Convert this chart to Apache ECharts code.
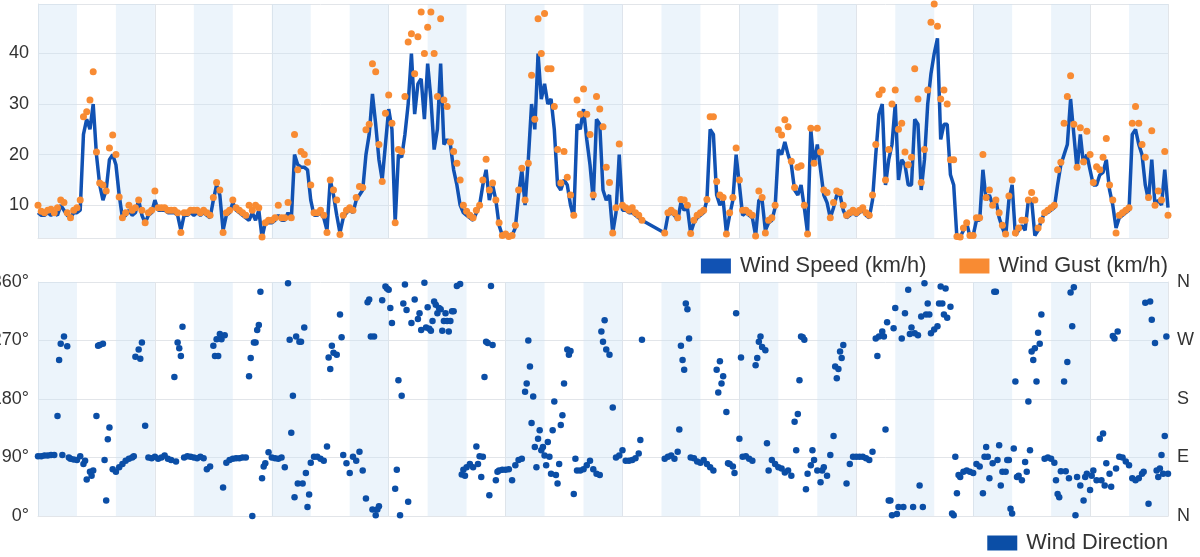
<!DOCTYPE html>
<html>
<head>
<meta charset="utf-8">
<title>Wind</title>
<script src="https://cdn.jsdelivr.net/npm/echarts@6.0.0/dist/echarts.min.js"></script>
<style>
  html, body { margin: 0; padding: 0; background: #fff; }
  #wind { width: 1200px; height: 557px; }
</style>
</head>
<body>
<div id="wind"></div>
<script>
// hourly readings, one row = 12 h (one shaded / unshaded band)
const speed = [
  8.5, 8, 8, 8.5, 8, 8.5, 8, 10, 9, 8, 7.5, 8.5,
  8.5, 9, 24, 27, 25, 30, 20, 14, 11, 13, 19, 20,
  18, 12, 7.5, 8, 9, 8, 8.5, 11, 8, 6.5, 8, 8.5,
  11, 9, 9, 9, 8.5, 8.5, 8.5, 8, 5, 8, 8, 8.5,
  8, 8.5, 8, 8.5, 8, 7.5, 11, 14, 12, 5, 8, 8.5,
  10.5, 9, 8.5, 8, 7.5, 7, 8.5, 7, 9, 3.6, 6.5, 6.5,
  6.5, 7, 8, 7, 7, 8.5, 7, 20, 18, 17.5, 17.5, 17,
  11, 8, 8, 8.5, 7.5, 5, 15, 12, 8, 4.5, 7.5, 8.5,
  9, 8.5, 11, 12, 13, 20, 24, 32, 26, 19, 15, 22,
  29, 25, 6.5, 20, 19.5, 24, 30, 40, 28, 34, 35, 27,
  38, 31, 21, 25, 38, 22, 23, 22, 17, 14, 10, 8.5,
  8, 7.5, 7, 8.5, 10, 14, 17, 11, 14, 11, 6, 4,
  4, 3.8, 4, 5.5, 12, 17, 10, 19, 30, 25, 40, 31,
  34, 30, 31, 25, 14, 13, 15, 14, 10, 7.5, 26, 25,
  29, 23, 18, 11, 27, 26, 13, 11, 12, 4.5, 8.5, 20,
  9, 9, 8.5, 8.5, 8, 7.5, 7, null, null, null, null, null,
  null, 4.5, 8, 8.5, 8, 7, 10.5, 9, 9.5, 4.5, 6.5, 7.5,
  8, 8.5, 11, 25, 24, 12, 10, 11, 4.5, 8, 11, 20,
  14, 8, 8.5, 8, 7.5, 4, 11, 11, 5, 6.5, 7, 9.5,
  21, 20, 22.5, 20, 18, 13, 12, 14, 9.5, 4.5, 25, 18,
  22, 17, 12, 10.5, 7.5, 9.5, 12, 12, 9, 7.5, 8, 8.5,
  8, 8.5, 9, 8, 7.5, 11, 20, 28, 30, 14, 19, 22,
  30, 15, 19, 18, 14, 14, 27, 26, 13, 19, 30, 36,
  40, 43, 23, 26, 26, 16, 14, 3.5, 3.7, 5, 6.5, 3.8,
  4, 7, 7, 17, 11, 12, 10, 11, 7.5, 5.5, 3.9, 11,
  14, 4, 5, 6, 5, 11, 11, 4, 5, 7, 8.5, 8.5,
  9, 9.5, 14, 18, 20, 22, 31, 24, 17, 24, 18, 20,
  17, 14, 14, 16, 16.5, 19, 13, 10, 5.5, 7.5, 8, 8.5,
  9, 24, 25, 22, 20, 14, 11, 19, 10, 11, 10, 17, 9.5
];

const gust = [
  10, 8.8, 8.5, 9, 9.2, 8.5, 9.5, 11, 10.5, 8.5, 7.5, 9,
  9.5, 11, 27.5, 28.5, 30.8, 36.4, 20.5, 14.4, 14, 12.8, 21.3, 23.9,
  20, 11.6, 7.5, 8.5, 10, 9, 9.5, 11, 9, 6.5, 8.5, 9,
  12.8, 9.5, 9.5, 9.5, 9, 9, 9, 8.5, 4.6, 8.5, 8.5, 9,
  9, 9, 8.5, 9, 8.5, 8, 11.5, 14.5, 13, 4.6, 8.5, 9,
  11, 9.5, 9, 8.5, 8, 10, 9, 10, 9.5, 3.7, 6.5, 7,
  7, 7.5, 10, 7.5, 7.5, 10.5, 7.5, 24, 17, 20.6, 20, 18.5,
  14, 8.5, 8.5, 9, 8, 4.6, 15, 13, 11, 4.2, 8, 9,
  9.5, 9, 11.5, 13.7, 13.5, 24.9, 26, 38, 36.4, 22, 14.7, 28.2,
  31.8, 26.2, 6.5, 21, 20.6, 31.5, 42.3, 43.9, 36, 43.3, 48.2, 40,
  45.2, 48.2, 40, 31.5, 46.9, 30.8, 29.5, 22.5, 20.6, 18.3, 15, 10,
  8.8, 8, 7.5, 9, 10, 15, 19.1, 13, 14.4, 11, 6.5, 4,
  4.3, 3.8, 4, 6, 13, 17.3, 11, 18.3, 35.7, 27, 46.9, 40,
  47.9, 37, 37, 29.5, 21, 14.4, 20.6, 15.5, 12, 8, 30.8, 28,
  33, 28, 24, 12, 31.5, 29, 25.5, 17.5, 14.5, 4.5, 9.5, 22.1,
  10, 9.5, 9, 9.5, 8.5, 8, 7, null, null, null, null, null,
  null, 4.5, 8.5, 9, 8.5, 7.5, 11.1, 11, 10, 4.4, 7, 8,
  8.5, 9, 11.1, 27.5, 27.5, 14.7, 12, 11.5, 4.3, 8.5, 11.5, 21.3,
  15, 9, 9, 8.5, 8, 3.9, 12.8, 11.5, 4.5, 7, 7.5, 10,
  24.9, 23.9, 26.9, 25.5, 18.7, 13.5, 17.5, 17.8, 10, 4.3, 25.2, 18.3,
  25.2, 20.5, 13, 12.5, 7.5, 10.5, 12.8, 12.5, 10, 8, 8.5, 9,
  8.5, 9, 9.5, 8.5, 8, 12, 22, 31.9, 32.8, 15, 21, 30,
  32.8, 25, 26.2, 20.5, 18, 19.5, 37, 31, 14.5, 21, 32.8, 46.2,
  49.8, 45.4, 31, 32.8, 30, 19, 19, 3.8, 3.7, 5.5, 6.5, 4,
  4, 7.5, 7.5, 20, 11.5, 13, 10, 11, 8.5, 6, 4.3, 11.8,
  15, 4.5, 5.5, 7, 7, 11, 12.5, 11, 5.5, 7, 8.5, 9,
  9.5, 10, 17, 18.5, 26.2, 31.5, 35.6, 26, 17.5, 25.3, 18.6, 24.6,
  20, 14.5, 17.6, 17, 19.5, 23.2, 14, 11, 4.5, 8, 8.5, 9,
  9.5, 26.2, 29.5, 26.2, 22, 19.5, 11.5, 24.7, 10, 12.8, 11, 20.6, 8
];

// wind direction in degrees, one reading per hour
const direction = [
  92, 92, 93, 93, 94, 94, 154, 265, 276, 261, 88, 87,
  86, 92, 80, 56, 68, 70, 154, 263, 265, 24, 136, 72,
  68, 75, 80, 85, 88, 90, 245, 256, 267, 139, 90, 89,
  91, 88, 90, 93, 88, 86, 214, 267, 246, 90, 92, 91,
  90, 89, 91, 89, 72, 76, 262, 272, 280, 44, 82, 86,
  88, 89, 89, 90, 90, 215, 0, 267, 294, 58, 81, 98,
  90, 89, 88, 90, 75, 358, 128, 29, 50, 268, 290, 14,
  82, 91, 91, 88, 85, 107, 226, 251, 248, 310, 94, 81,
  66, 91, 85, 99, 70, 27, 333, 10, 1, 15, 332, 353,
  348, 297, 42, 209, 185, 356, 22, 297, 333, 303, 286, 359,
  321, 285, 330, 312, 318, 300, 300, 300, 315, 354, 357, 71,
  75, 80, 75, 107, 92, 91, 268, 32, 263, 55, 70, 71,
  71, 72, 55, 78, 86, 88, 191, 270, 143, 106, 119, 101,
  93, 114, 65, 176, 50, 140, 204, 256, 254, 34, 70, 70,
  72, 78, 85, 72, 65, 63, 268, 256, 248, 167, 90, 93,
  101, 85, 85, 86, 89, 96, 271, null, null, null, null, null,
  null, 88, 91, 93, 88, 99, 262, 225, 318, 90, 89, 84,
  82, 86, 80, 75, 70, 225, 238, 215, 160, 80, 76, 312,
  119, 91, 92, 88, 85, 232, 268, 260, 255, 70, 86, 80,
  75, 73, 67, 70, 62, 145, 157, 276, 271, 65, 78, 86,
  70, 52, 75, 62, 94, 123, 212, 253, 263, 50, 80, 91,
  91, 91, 91, 89, 86, 99, 273, 276, 284, 133, 24, 1,
  320, 14, 273, 312, 348, 290, 281, 278, 307, 358, 327, 281,
  287, 292, 353, 310, 305, 322, 1, 35, 60, 68, 70, 68,
  66, 80, 76, 35, 106, 58, 81, 345, 109, 68, 68, 86,
  4, 207, 62, 55, 83, 176, 253, 258, 282, 310, 88, 90,
  88, 82, 34, 69, 207, 237, 344, 352, 60, 47, 24, 65,
  40, 70, 55, 119, 127, 81, 65, 277, 73, 91, 90, 84,
  78, 58, 55, 58, 65, 328, 19, 302, 266, 60, 94, 123, 65
];

// half-hour direction readings
const dirExtraHour = [
  6.5, 7.5, 9.5, 14.5, 16.5, 18.5, 20.5, 21.5, 29.5, 31.5, 42.5, 43.5, 44.5,
  54.5, 55.5, 56.5, 57.5, 65.5, 66.5, 67.5, 68.5, 69.5, 77.5, 78.5, 79.5, 80.5,
  81.5, 82.5, 83.5, 89.5, 90.5, 93.5, 101.5, 102.5, 103.5, 104.5, 107.5, 108.5, 110.5,
  111.5, 112.5, 113.5, 117.5, 119.5, 120.5, 121.5, 122.5, 123.5, 124.5, 125.5, 126.5, 127.5,
  130.5, 131.5, 135.5, 136.5, 137.5, 138.5, 139.5, 141.5, 150.5, 151.5, 152.5,
  153.5, 154.5, 155.5, 156.5, 157.5, 158.5, 159.5, 160.5, 161.5, 163.5, 165.5,
  173.5, 174.5, 185.5, 197.5, 198.5, 199.5, 200.5, 209.5, 210.5, 212.5, 214.5, 216.5, 221.5, 222.5, 224.5,
  233.5, 234.5, 235.5, 236.5, 238.5, 241.5, 245.5, 246.5, 247.5, 258.5, 260.5, 261.5, 262.5, 263.5, 264.5,
  266.5, 268.5, 269.5, 271.5, 272.5, 273.5, 274.5, 277.5, 278.5, 279.5, 281.5, 282.5, 283.5,
  291.5, 292.5, 294.5, 295.5, 296.5, 298.5, 299.5, 300.5, 301.5, 304.5, 305.5, 306.5, 307.5, 308.5,
  313.5, 314.5, 316.5, 317.5, 318.5, 319.5, 322.5, 324.5, 327.5, 328.5, 330.5, 331.5, 332.5,
  340.5, 342.5, 344.5, 345.5, 346.5, 347.5
];
const dirExtraDeg = [
  240, 94, 90, 85, 62, 262, 86, 118, 92, 242, 84, 258, 291,
  246, 246, 272, 278, 243, 267, 286, 345, 76, 271, 185, 276, 268,
  50, 66, 33, 244, 262, 275, 329, 276, 276, 10, 350, 320, 71,
  1, 327, 317, 312, 290, 288, 300, 325, 320, 285, 312, 284, 315,
  64, 62, 80, 60, 214, 266, 354, 68, 204, 230, 184,
  75, 132, 106, 78, 91, 132, 63, 80, 155, 248, 88,
  284, 301, 117, 133, 240, 327, 273, 190, 204, 81, 66, 244, 243, 276, 112,
  101, 209, 275, 41, 101, 70, 230, 226, 243, 246, 276, 298, 24, 289, 3,
  14, 280, 14, 47, 14, 310, 310, 327, 327, 350, 4, 91, 63,
  91, 91, 345, 86, 47, 86, 11, 104, 60, 68, 101, 240, 207, 265,
  55, 29, 69, 58, 292, 1, 60, 62, 55, 47, 45, 273, 284,
  68, 330, 70, 73, 65, 276
];

const compass = { 0: 'N', 90: 'E', 180: 'S', 270: 'W', 360: 'N' };

const HOURS = 348;
const BAND = 12;
const font = '"Liberation Sans", Arial, Helvetica, sans-serif';
const lineGray = '#e2e5e9';
const blue = '#1152b3';
const orange = '#f88b33';

const nights = [];
for (let h = 0; h < HOURS; h += 2 * BAND) {
  nights.push([{ xAxis: h }, { xAxis: Math.min(h + BAND, HOURS) }]);
}
const shade = {
  silent: true,
  itemStyle: { color: 'rgba(205, 225, 245, 0.38)' },
  data: nights,
};

const toPoints = arr => arr.map((v, i) => [i, v]).filter(p => p[1] !== null);
const dirPoints = toPoints(direction).concat(dirExtraHour.map((h, i) => [h, dirExtraDeg[i]]));

const xAxisBase = {
  type: 'value',
  min: 0,
  max: HOURS,
  interval: 36,
  axisLabel: { show: false },
  axisTick: { show: false },
  axisLine: { lineStyle: { color: lineGray } },
  splitLine: { lineStyle: { color: lineGray } },
};
const labelStyle = { color: '#333', fontSize: 18, fontFamily: font, margin: 9 };
const legendText = { color: '#333', fontSize: 21.8, fontFamily: font, padding: [0, 0, 0, 4] };

echarts.init(document.getElementById('wind')).setOption({
  animation: false,
  grid: [
    { left: 38, right: 32, top: 4, height: 234, containLabel: false, outerBoundsMode: 'none' },
    { left: 38, right: 32, top: 282, height: 234, containLabel: false, outerBoundsMode: 'none' },
  ],
  legend: [
    {
      data: ['Wind Speed (km/h)', 'Wind Gust (km/h)'],
      right: 32,
      top: 255,
      padding: 0,
      icon: 'rect',
      itemWidth: 30,
      itemHeight: 15,
      itemGap: 33,
      textStyle: legendText,
    },
    {
      data: ['Wind Direction'],
      right: 32,
      top: 532,
      padding: 0,
      icon: 'rect',
      itemWidth: 30,
      itemHeight: 15,
      textStyle: legendText,
    },
  ],
  xAxis: [
    Object.assign({ gridIndex: 0 }, xAxisBase),
    Object.assign({ gridIndex: 1 }, xAxisBase),
  ],
  yAxis: [
    {
      type: 'value',
      gridIndex: 0,
      min: 3.5,
      max: 49.8,
      axisLabel: Object.assign({ showMinLabel: false, showMaxLabel: false,
        formatter: v => (v % 10 === 0 ? v : '') }, labelStyle),
      axisTick: { show: false },
      axisLine: { show: true, lineStyle: { color: lineGray } },
      splitLine: { lineStyle: { color: lineGray } },
    },
    {
      type: 'value',
      gridIndex: 1,
      min: 0,
      max: 360,
      interval: 90,
      axisLabel: Object.assign({ formatter: '{value}°' }, labelStyle),
      axisTick: { show: false },
      axisLine: { show: true, lineStyle: { color: lineGray } },
      splitLine: { lineStyle: { color: lineGray } },
    },
    {
      type: 'value',
      gridIndex: 1,
      position: 'right',
      min: 0,
      max: 360,
      interval: 90,
      axisLabel: Object.assign({ formatter: v => compass[v] }, labelStyle),
      axisTick: { show: false },
      axisLine: { show: true, lineStyle: { color: lineGray } },
      splitLine: { show: false },
    },
  ],
  series: [
    {
      name: 'Wind Speed (km/h)',
      type: 'line',
      xAxisIndex: 0,
      yAxisIndex: 0,
      data: toPoints(speed),
      showSymbol: false,
      connectNulls: true,
      lineStyle: { color: blue, width: 3.5 },
      itemStyle: { color: blue },
      markArea: shade,
      z: 2,
    },
    {
      name: 'Wind Gust (km/h)',
      type: 'scatter',
      xAxisIndex: 0,
      yAxisIndex: 0,
      data: toPoints(gust),
      symbolSize: 7,
      itemStyle: { color: orange, opacity: 1 },
      z: 3,
    },
    {
      name: 'Wind Direction',
      type: 'scatter',
      xAxisIndex: 1,
      yAxisIndex: 1,
      data: dirPoints,
      symbolSize: 6.5,
      itemStyle: { color: '#0b4ea6', opacity: 1 },
      markArea: shade,
      z: 3,
    },
  ],
});
</script>
</body>
</html>
